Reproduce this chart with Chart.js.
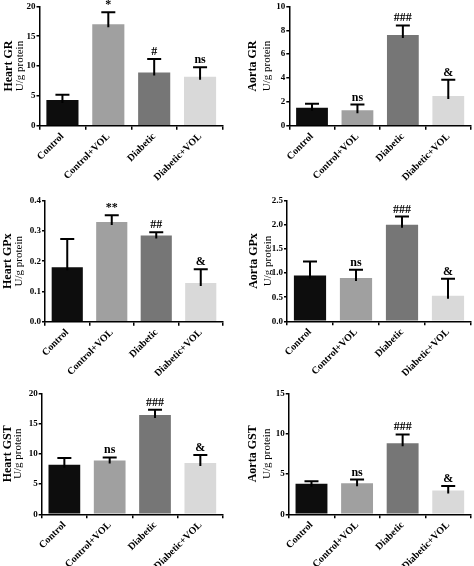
<!DOCTYPE html>
<html>
<head>
<meta charset="utf-8">
<script src="https://cdn.jsdelivr.net/npm/chart.js@4.4.1/dist/chart.umd.min.js"></script>
<style>
  html, body { margin: 0; padding: 0; background: #fff; }
  body { width: 474px; height: 566px; position: relative; overflow: hidden; }
  canvas { position: absolute; }
</style>
</head>
<body>
<canvas id="c1"></canvas>
<canvas id="c2"></canvas>
<canvas id="c3"></canvas>
<canvas id="c4"></canvas>
<canvas id="c5"></canvas>
<canvas id="c6"></canvas>
<script>
// ---- data ----
const categories = ['Control', 'Control+VOL', 'Diabetic', 'Diabetic+VOL'];
const barColors = ['#0d0d0d', '#a0a0a0', '#767676', '#d9d9d9'];

const heartGR = [4.3, 17.0, 8.9, 8.2];
const heartGRSem = [0.9, 2.0, 2.3, 1.6];
const heartGRMarks = ['', '*', '#', 'ns'];

const aortaGR = [1.5, 1.3, 7.6, 2.5];
const aortaGRSem = [0.33, 0.47, 0.8, 1.35];
const aortaGRMarks = ['', 'ns', '###', '&'];

const heartGPx = [0.18, 0.33, 0.285, 0.128];
const heartGPxSem = [0.093, 0.022, 0.011, 0.045];
const heartGPxMarks = ['', '**', '##', '&'];

const aortaGPx = [0.95, 0.9, 2.0, 0.53];
const aortaGPxSem = [0.29, 0.17, 0.17, 0.35];
const aortaGPxMarks = ['', 'ns', '###', '&'];

const heartGST = [8.2, 8.9, 16.4, 8.5];
const heartGSTSem = [1.1, 0.5, 0.9, 1.3];
const heartGSTMarks = ['', 'ns', '###', '&'];

const aortaGST = [3.8, 3.85, 8.8, 2.95];
const aortaGSTSem = [0.3, 0.45, 1.1, 0.55];
const aortaGSTMarks = ['', 'ns', '###', '&'];

const heartGRTicks = { max: 20, step: 5, decimals: 0 };
const aortaGRTicks = { max: 10, step: 2, decimals: 0 };
const heartGPxTicks = { max: 0.4, step: 0.1, decimals: 1 };
const aortaGPxTicks = { max: 2.5, step: 0.5, decimals: 1 };
const heartGSTTicks = { max: 20, step: 5, decimals: 0 };
const aortaGSTTicks = { max: 15, step: 5, decimals: 0 };

// ---- layout (page coordinates) ----
const panels = [
  { id: 'c1', title: 'Heart GR', unit: 'U/g protein', values: heartGR, sem: heartGRSem, marks: heartGRMarks, ticks: heartGRTicks,
    cx: 0, cy: 0, h: 190, axisX: 39.5, endX: 223, top: 5, zero: 125.7, t1: 9, t2: 20 },
  { id: 'c2', title: 'Aorta GR', unit: 'U/g protein', values: aortaGR, sem: aortaGRSem, marks: aortaGRMarks, ticks: aortaGRTicks,
    cx: 237, cy: 0, h: 190, axisX: 289.3, endX: 471, top: 5, zero: 125.7, t1: 253, t2: 267 },
  { id: 'c3', title: 'Heart GPx', unit: 'U/g protein', values: heartGPx, sem: heartGPxSem, marks: heartGPxMarks, ticks: heartGPxTicks,
    cx: 0, cy: 190, h: 186, axisX: 45, endX: 223, top: 200.7, zero: 321.7, t1: 8, t2: 19 },
  { id: 'c4', title: 'Aorta GPx', unit: 'U/g protein', values: aortaGPx, sem: aortaGPxSem, marks: aortaGPxMarks, ticks: aortaGPxTicks,
    cx: 237, cy: 190, h: 186, axisX: 287, endX: 471, top: 200.7, zero: 321.3, t1: 254, t2: 268 },
  { id: 'c5', title: 'Heart GST', unit: 'U/g protein', values: heartGST, sem: heartGSTSem, marks: heartGSTMarks, ticks: heartGSTTicks,
    cx: 0, cy: 376, h: 190, axisX: 41.7, endX: 223, top: 393.3, zero: 514.3, t1: 8, t2: 18 },
  { id: 'c6', title: 'Aorta GST', unit: 'U/g protein', values: aortaGST, sem: aortaGSTSem, marks: aortaGSTMarks, ticks: aortaGSTTicks,
    cx: 237, cy: 376, h: 190, axisX: 288.7, endX: 471, top: 393.3, zero: 514.3, t1: 253, t2: 267 }
];

const SERIF = '"Liberation Serif", "DejaVu Serif", serif';

const extras = {
  id: 'extras',
  afterDraw(chart, args, opts) {
    const ctx = chart.ctx;
    const ys = chart.scales.y;
    const meta = chart.getDatasetMeta(0);
    ctx.save();
    ctx.strokeStyle = '#000';
    ctx.fillStyle = '#000';
    ctx.lineWidth = 2;
    opts.values.forEach((v, i) => {
      const bar = meta.data[i];
      const x = bar.x;
      const yTop = ys.getPixelForValue(v + opts.sem[i]);
      const yBase = bar.y + 3;
      ctx.beginPath();
      ctx.moveTo(x, yBase);
      ctx.lineTo(x, yTop);
      ctx.moveTo(x - 7, yTop);
      ctx.lineTo(x + 7, yTop);
      ctx.stroke();
      const m = opts.marks[i];
      if (m) {
        ctx.font = (m === 'ns' || m === '&' ? 'bold ' : 'bold ') + '12px ' + SERIF;
        ctx.textAlign = 'center';
        ctx.textBaseline = 'alphabetic';
        ctx.fillText(m, x, yTop - 4);
      }
    });
    // axis titles
    const midY = (chart.chartArea.top + chart.chartArea.bottom) / 2;
    ctx.textAlign = 'center';
    ctx.textBaseline = 'middle';
    ctx.save();
    ctx.translate(opts.t1, midY);
    ctx.rotate(-Math.PI / 2);
    ctx.font = 'bold 12px ' + SERIF;
    ctx.fillText(opts.title, 0, 0);
    ctx.restore();
    ctx.save();
    ctx.translate(opts.t2, midY);
    ctx.rotate(-Math.PI / 2);
    ctx.font = '11px ' + SERIF;
    ctx.fillText(opts.unit, 0, 0);
    ctx.restore();
    ctx.restore();
  }
};

panels.forEach(p => {
  const canvas = document.getElementById(p.id);
  const W = 237;
  canvas.width = W;
  canvas.height = p.h;
  canvas.style.width = W + 'px';
  canvas.style.height = p.h + 'px';
  canvas.style.left = p.cx + 'px';
  canvas.style.top = p.cy + 'px';
  const yWidth = p.axisX - p.cx;
  const xHeight = (p.cy + p.h) - p.zero;
  const padTop = p.top - p.cy;
  const padRight = W - (p.endX - p.cx);
  new Chart(canvas, {
    type: 'bar',
    data: {
      labels: categories,
      datasets: [{
        data: p.values,
        backgroundColor: barColors,
        borderWidth: 0,
        categoryPercentage: 1,
        barPercentage: 0.7
      }]
    },
    options: {
      responsive: false,
      animation: false,
      devicePixelRatio: 1,
      layout: { padding: { top: padTop, right: padRight, bottom: 0, left: 0 } },
      plugins: {
        legend: { display: false },
        tooltip: { enabled: false },
        extras: { values: p.values, sem: p.sem, marks: p.marks, title: p.title, unit: p.unit,
                  t1: p.t1 - p.cx, t2: p.t2 - p.cx }
      },
      scales: {
        x: {
          afterFit: s => { s.height = xHeight; },
          grid: { drawOnChartArea: false, drawTicks: true, tickLength: 4, color: '#000', lineWidth: 1.5 },
          border: { color: '#000', width: 1.5 },
          ticks: {
            color: '#000',
            font: { family: SERIF, weight: 'bold', size: 10 },
            minRotation: 45, maxRotation: 45, padding: 1, autoSkip: false
          }
        },
        y: {
          min: 0, max: p.ticks.max,
          afterFit: s => { s.width = yWidth; },
          grid: { drawOnChartArea: false, drawTicks: true, tickLength: 3, color: '#000', lineWidth: 1.5 },
          border: { color: '#000', width: 1.5 },
          ticks: {
            stepSize: p.ticks.step,
            color: '#000',
            padding: 1,
            font: { family: SERIF, weight: 'bold', size: 9 },
            callback: v => Number(v).toFixed(p.ticks.decimals)
          }
        }
      }
    },
    plugins: [extras]
  });
});
</script>
</body>
</html>
